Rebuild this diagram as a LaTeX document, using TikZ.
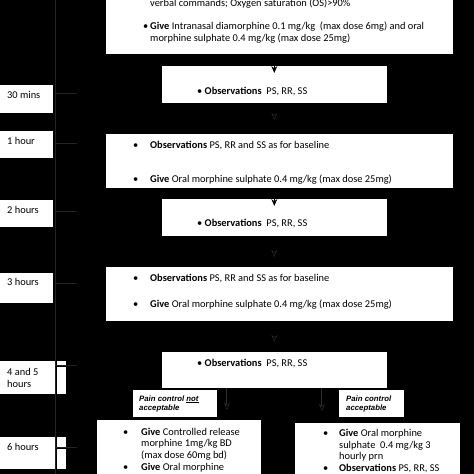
\documentclass[tikz,border=0pt]{standalone}
\usepackage{fontspec}
\setmainfont{Carlito}
\newfontfamily\notefont{Liberation Sans}
\usetikzlibrary{arrows.meta}
\begin{document}
\begin{tikzpicture}[x=1pt, y=-1pt,
    box/.style={draw=black, fill=white, line width=0.6pt, anchor=north west, inner sep=0pt},
    ln/.style={anchor=base west, inner sep=0pt, font=\fontsize{10.4}{12}\selectfont},
    note/.style={anchor=base west, inner sep=0pt, font=\notefont\bfseries\itshape\fontsize{7.8}{9}\selectfont},
    flow/.style={-{Stealth[length=7pt, width=6pt]}, draw=black, line width=1pt},
    faint/.style={-{Stealth[length=7pt, width=6pt, open]}, draw=black!82, line width=0.4pt, double=black, double distance=0.7pt},
    tick/.style={draw=black, line width=0.8pt, preaction={draw=black!86, line width=1.6pt}}]
    \useasboundingbox (0,0) rectangle (474,474);
    \clip (0,0) rectangle (474,474);
    \fill[black] (0,0) rectangle (474,474);
    % time axis
    \coordinate (axis_top) at (56,-2);
    \coordinate (axis_bot) at (56,476);
    \node[box, minimum width=58pt, minimum height=29pt] (t_30) at (-5,84) {};
    \node[box, minimum width=58pt, minimum height=28pt] (t_1) at (-5,130) {};
    \node[box, minimum width=58pt, minimum height=28pt] (t_2) at (-5,199) {};
    \node[box, minimum width=58pt, minimum height=31pt] (t_3) at (-5,272) {};
    \node[box, minimum width=71pt, minimum height=34pt] (t_45) at (-5,360) {};
    \node[box, minimum width=71pt, minimum height=33pt] (t_6) at (-5,436) {};
    \node[ln] (t_30_l) at (7,98) {30 mins};
    \node[ln] (t_1_l) at (7,144) {1 hour};
    \node[ln] (t_2_l) at (7,213) {2 hours};
    \node[ln] (t_3_l) at (7,285) {3 hours};
    \node[ln] (t_45_l) at (7,375) {4 and 5};
    \node[ln] (t_45_m) at (7,387) {hours};
    \node[ln] (t_6_l) at (7,450) {6 hours};
    \draw[tick] (axis_top) -- (axis_bot);
    \coordinate (k_30) at (77,94);
    \coordinate (k_1) at (77,144);
    \coordinate (k_2) at (77,212);
    \coordinate (k_3) at (77,284);
    \coordinate (k_45) at (77,366);
    \coordinate (k_6) at (77,448);
    \draw[tick] (k_30 -| axis_top) -- (k_30);
    \draw[tick] (k_1 -| axis_top) -- (k_1);
    \draw[tick] (k_2 -| axis_top) -- (k_2);
    \draw[tick] (k_3 -| axis_top) -- (k_3);
    \draw[tick] (k_45 -| axis_top) -- (k_45);
    \draw[tick] (k_6 -| axis_top) -- (k_6);
    % boxes
    \node[box, minimum width=348pt, minimum height=74pt] (start) at (105,-20) {};
    \node[box, minimum width=226pt, minimum height=38pt] (obs_a) at (161,65) {};
    \node[box, minimum width=348pt, minimum height=55pt] (dose_a) at (105,133) {};
    \node[box, minimum width=226pt, minimum height=38pt] (obs_b) at (161,198) {};
    \node[box, minimum width=348pt, minimum height=55pt] (dose_b) at (105,266) {};
    \node[box, minimum width=226pt, minimum height=37pt] (obs_c) at (161,351) {};
    \node[box, minimum width=85pt, minimum height=28pt] (not_ok) at (132,389) {};
    \node[box, minimum width=66pt, minimum height=28pt] (ok) at (338,389) {};
    \node[box, minimum width=165pt, minimum height=80pt] (cr) at (96,419) {};
    \node[box, minimum width=166pt, minimum height=80pt] (prn) at (294,422) {};
    % texts
    \node[ln] (start_0) at (150,6) {verbal commands; Oxygen saturation (OS)>90\%};
    \node[ln] (start_b) at (143,29.5) {\textbullet};
    \node[ln] (start_1) at (150,29.5) {\textbf{Give} Intranasal diamorphine 0.1 mg/kg~ (max dose 6mg) and oral};
    \node[ln] (start_2) at (150,41) {morphine sulphate 0.4 mg/kg (max dose 25mg)};
    \node[ln] (obs_a_1) at (197,94) {\textbullet{} \textbf{Observations}~ PS, RR, SS};
    \node[ln] (dose_a_b1) at (133,148) {\textbullet};
    \node[ln] (dose_a_1) at (150,148) {\textbf{Observations} PS, RR and SS as for baseline};
    \node[ln] (dose_a_b2) at (133,182) {\textbullet};
    \node[ln] (dose_a_2) at (150,182) {\textbf{Give} Oral morphine sulphate 0.4 mg/kg (max dose 25mg)};
    \node[ln] (obs_b_1) at (197,226) {\textbullet{} \textbf{Observations}~ PS, RR, SS};
    \node[ln] (dose_b_b1) at (133,281) {\textbullet};
    \node[ln] (dose_b_1) at (150,281) {\textbf{Observations} PS, RR and SS as for baseline};
    \node[ln] (dose_b_b2) at (133,307) {\textbullet};
    \node[ln] (dose_b_2) at (150,307) {\textbf{Give} Oral morphine sulphate 0.4 mg/kg (max dose 25mg)};
    \node[ln] (obs_c_1) at (197,366) {\textbullet{} \textbf{Observations}~ PS, RR, SS};
    \node[note] (not_ok_1) at (139,401) {Pain control \underline{not}};
    \node[note] (not_ok_2) at (139,410) {acceptable};
    \node[note] (ok_1) at (346,401) {Pain control};
    \node[note] (ok_2) at (346,410) {acceptable};
    \node[ln] (cr_b1) at (123,435) {\textbullet};
    \node[ln] (cr_1) at (141,435) {\textbf{Give} Controlled release};
    \node[ln] (cr_2) at (141,446.7) {morphine 1mg/kg BD};
    \node[ln] (cr_3) at (141,458.4) {(max dose 60mg bd)};
    \node[ln] (cr_b2) at (123,470) {\textbullet};
    \node[ln] (cr_4) at (141,470) {\textbf{Give} Oral morphine};
    \node[ln] (prn_b1) at (323,436) {\textbullet};
    \node[ln] (prn_1) at (339,436) {\textbf{Give} Oral morphine};
    \node[ln] (prn_2) at (339,448) {sulphate~ 0.4 mg/kg 3};
    \node[ln] (prn_3) at (339,459.5) {hourly prn};
    \node[ln] (prn_b2) at (323,471) {\textbullet};
    \node[ln] (prn_4) at (339,471) {\textbf{Observations} PS, RR, SS};
    % arrows
    \draw[flow, shorten >=-8pt] (start.south -| obs_a.north) -- (obs_a.north);
    \draw[faint, shorten >=13pt] (obs_a.south) -- (obs_a.south |- dose_a.north);
    \draw[flow, shorten >=-8pt] (dose_a.south -| obs_b.north) -- (obs_b.north);
    \draw[faint, shorten >=9pt] (obs_b.south) -- (obs_b.south |- dose_b.north);
    \draw[faint, shorten >=9pt] (dose_b.south -| obs_c.north) -- (obs_c.north);
    \coordinate (split_l) at (227,388);
    \coordinate (split_r) at (322,388);
    \draw[black, line width=1pt] (split_l) -- (split_r);
    \draw[faint, shorten >=9pt] (split_l) -- (split_l |- cr.north);
    \draw[faint, shorten >=11pt] (split_r) -- (split_r |- prn.north);
\end{tikzpicture}
\end{document}
